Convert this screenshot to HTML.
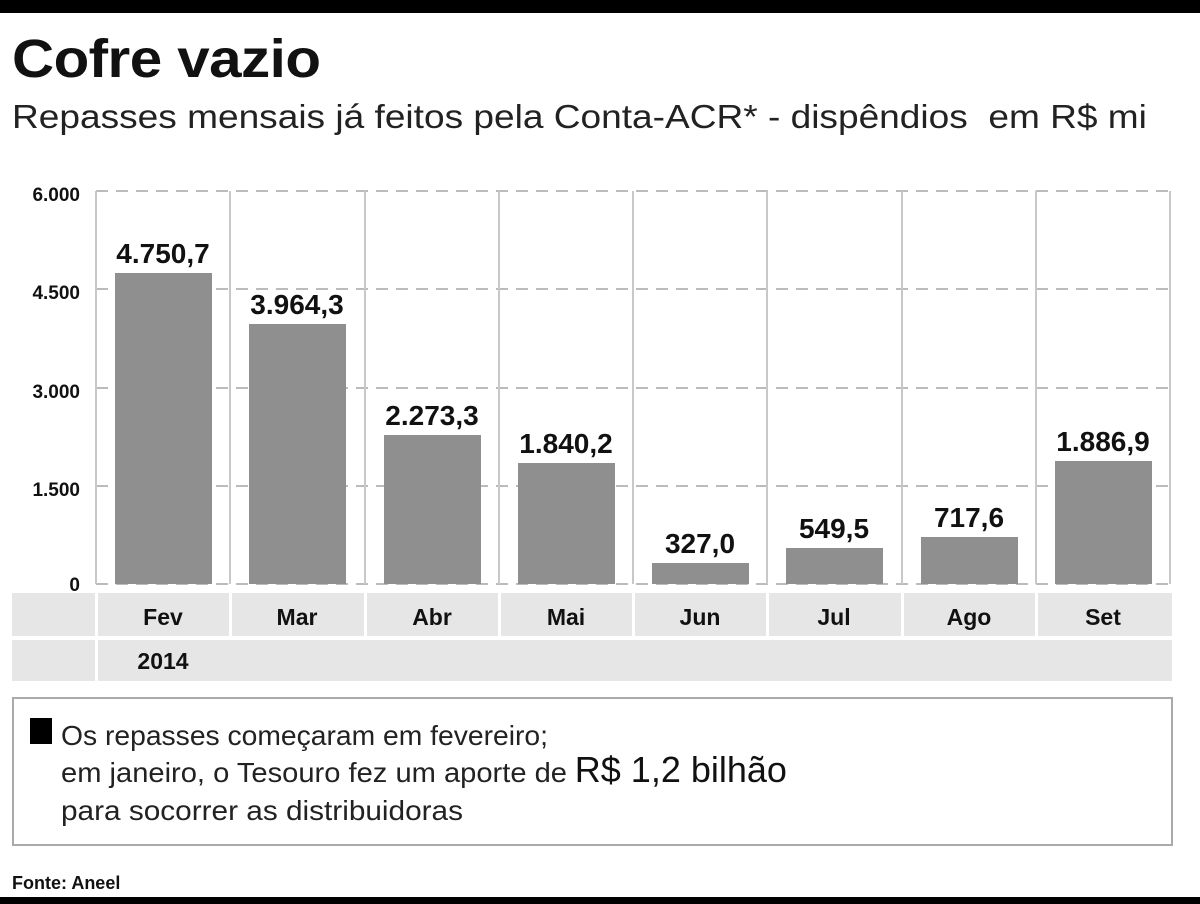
<!DOCTYPE html>
<html><head><meta charset="utf-8"><style>
body{margin:0;width:1200px;height:904px;background:#fff;position:relative;overflow:hidden;font-family:"Liberation Sans",sans-serif;color:#111}
.a{position:absolute}
</style></head><body>
<div class="a" style="left:0;top:0;width:1200px;height:13px;background:#000"></div>
<div class="a" style="left:12px;top:28px;font-size:54px;font-weight:bold;letter-spacing:-0.5px;transform:scaleX(1.08);transform-origin:left">Cofre vazio</div>
<div class="a" style="left:12px;top:98px;font-size:33px;color:#222;transform:scaleX(1.123);transform-origin:left;white-space:nowrap">Repasses mensais já feitos pela Conta-ACR* - dispêndios&nbsp; em R$ mi</div>
<svg class="a" style="left:0;top:0" width="1200" height="904">
<g stroke="#bbb" stroke-width="2" stroke-dasharray="12,8">
<line x1="96" y1="191" x2="1172" y2="191"/><line x1="96" y1="289" x2="1172" y2="289"/><line x1="96" y1="388" x2="1172" y2="388"/><line x1="96" y1="486" x2="1172" y2="486"/><line x1="96" y1="584" x2="1172" y2="584"/>
</g>
<g stroke="#c8c8c8" stroke-width="2">
<line x1="96" y1="191" x2="96" y2="584"/><line x1="230" y1="191" x2="230" y2="584"/><line x1="365" y1="191" x2="365" y2="584"/><line x1="499" y1="191" x2="499" y2="584"/><line x1="633" y1="191" x2="633" y2="584"/><line x1="767" y1="191" x2="767" y2="584"/><line x1="902" y1="191" x2="902" y2="584"/><line x1="1036" y1="191" x2="1036" y2="584"/><line x1="1170" y1="191" x2="1170" y2="584"/>
</g>
<g fill="#8f8f8f">
<rect x="115" y="273" width="97" height="311"/><rect x="249" y="324" width="97" height="260"/><rect x="384" y="435" width="97" height="149"/><rect x="518" y="463" width="97" height="121"/><rect x="652" y="563" width="97" height="21"/><rect x="786" y="548" width="97" height="36"/><rect x="921" y="537" width="97" height="47"/><rect x="1055" y="461" width="97" height="123"/>
</g>
<g font-family="Liberation Sans" font-weight="bold" font-size="19" text-anchor="end" fill="#111">
<text x="80" y="201">6.000</text><text x="80" y="299">4.500</text><text x="80" y="398">3.000</text><text x="80" y="496">1.500</text><text x="80" y="591">0</text>
</g>
<g font-family="Liberation Sans" font-weight="bold" font-size="28" text-anchor="middle" fill="#111">
<text x="163" y="263">4.750,7</text><text x="297" y="314">3.964,3</text><text x="432" y="425">2.273,3</text><text x="566" y="453">1.840,2</text><text x="700" y="553">327,0</text><text x="834" y="538">549,5</text><text x="969" y="527">717,6</text><text x="1103" y="451">1.886,9</text>
</g>
<g fill="#e6e6e6">
<rect x="12" y="593" width="83" height="43"/><rect x="98" y="593" width="131" height="43"/><rect x="232" y="593" width="132" height="43"/><rect x="367" y="593" width="131" height="43"/><rect x="501" y="593" width="131" height="43"/><rect x="635" y="593" width="131" height="43"/><rect x="769" y="593" width="132" height="43"/><rect x="904" y="593" width="131" height="43"/><rect x="1038" y="593" width="134" height="43"/>
<rect x="12" y="640" width="83" height="41"/><rect x="98" y="640" width="1074" height="41"/>
</g>
<g font-family="Liberation Sans" font-weight="bold" font-size="23" text-anchor="middle" fill="#111">
<text x="163" y="625">Fev</text><text x="297" y="625">Mar</text><text x="432" y="625">Abr</text><text x="566" y="625">Mai</text><text x="700" y="625">Jun</text><text x="834" y="625">Jul</text><text x="969" y="625">Ago</text><text x="1103" y="625">Set</text>
<text x="163" y="669">2014</text>
</g>
<rect x="13" y="698" width="1159" height="147" fill="#fff" stroke="#aaa" stroke-width="2"/>
<rect x="30" y="718" width="22" height="26" fill="#000"/>
<g font-family="Liberation Sans" font-size="28" fill="#222">
<text x="61" y="745" textLength="487" lengthAdjust="spacingAndGlyphs">Os repasses começaram em fevereiro;</text>
<text x="61" y="782"><tspan textLength="506" lengthAdjust="spacingAndGlyphs">em janeiro, o Tesouro fez um aporte de</tspan> <tspan font-size="36" fill="#111">R$ 1,2 bilhão</tspan></text>
<text x="61" y="820" textLength="402" lengthAdjust="spacingAndGlyphs">para socorrer as distribuidoras</text>
</g>
<text x="12" y="889" font-family="Liberation Sans" font-weight="bold" font-size="18" fill="#111">Fonte: Aneel</text>
<rect x="0" y="897" width="1200" height="7" fill="#000"/>
</svg>
</body></html>
